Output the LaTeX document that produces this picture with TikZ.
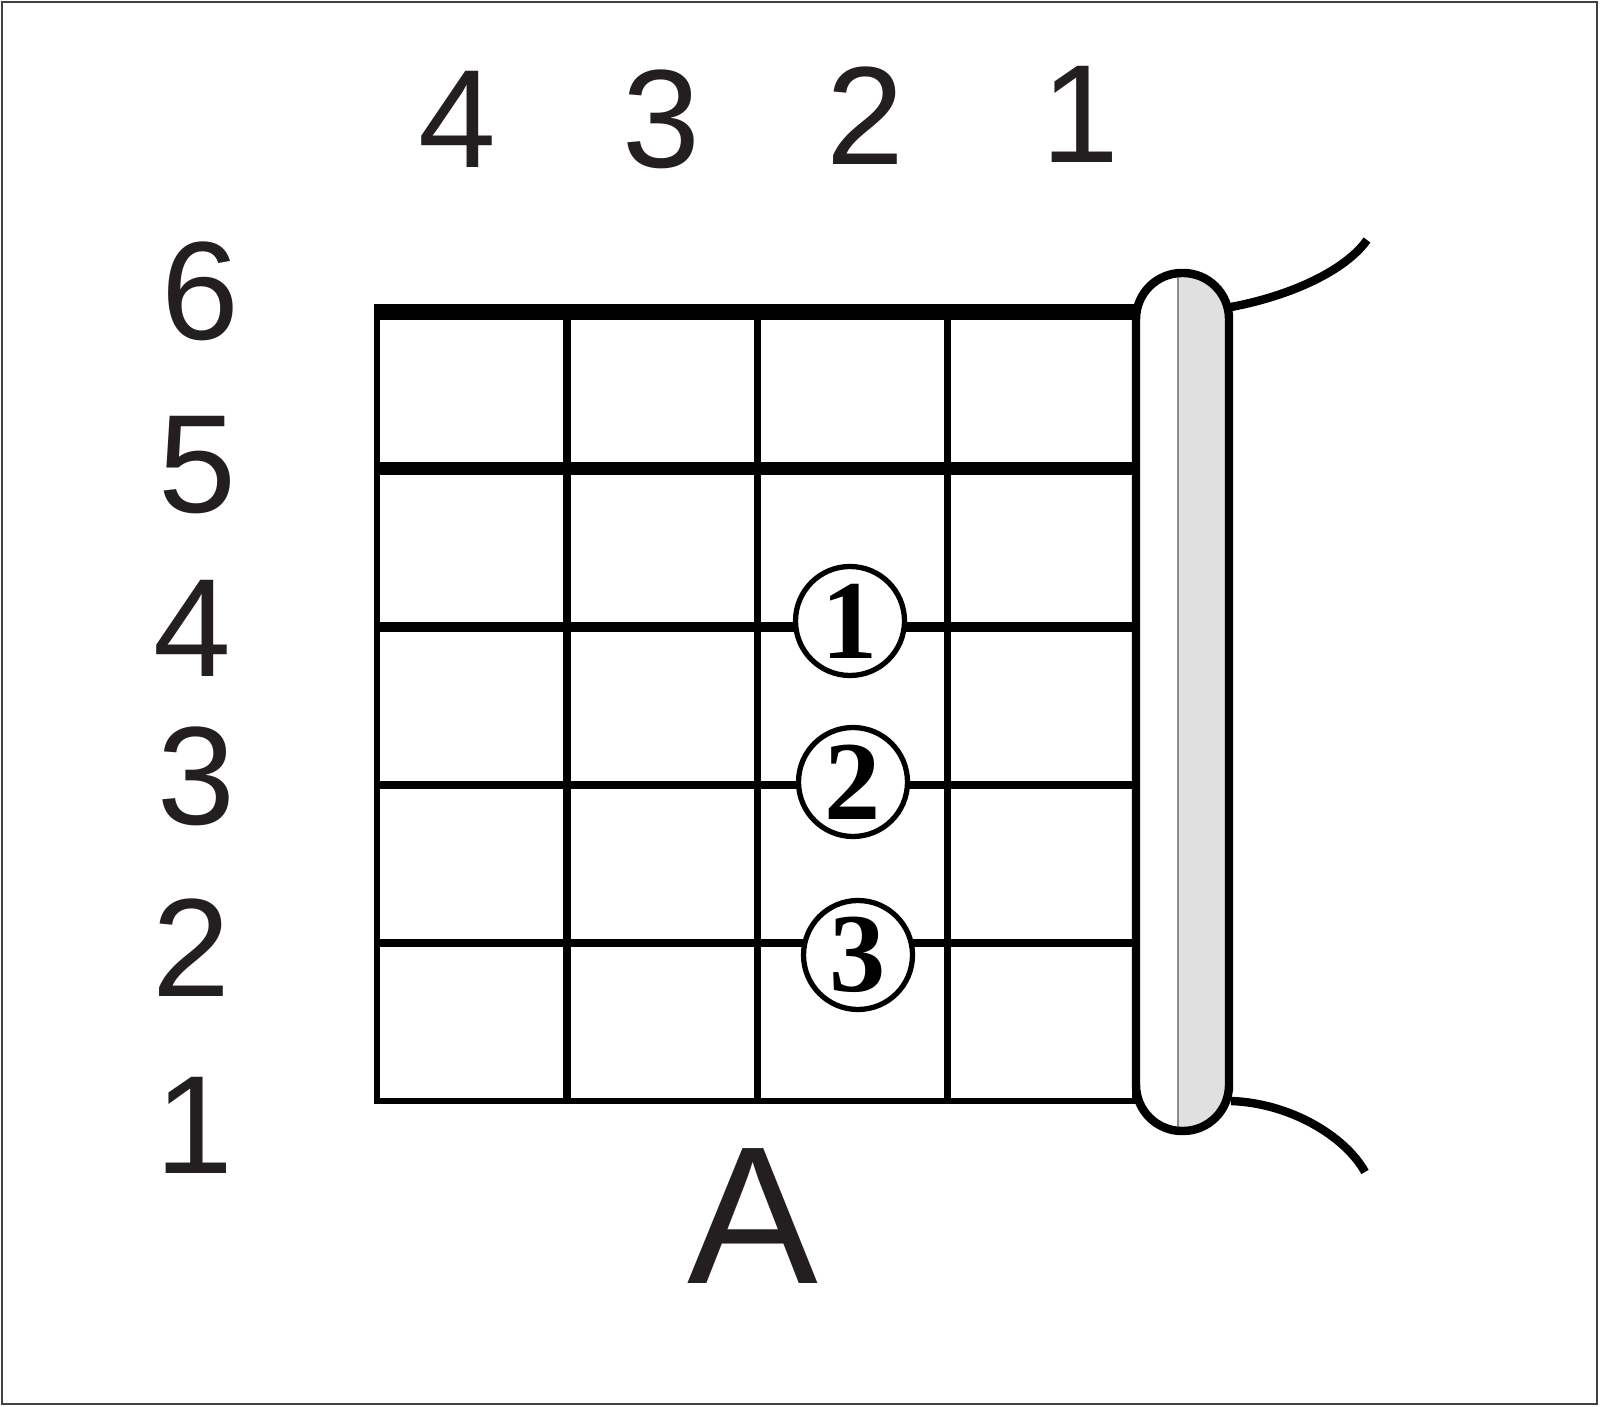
\documentclass[tikz,border=0pt]{standalone}
\usepackage{fontspec}
\newfontfamily\labelfont{Liberation Sans}
\newfontfamily\fingerfont{Liberation Serif}
\definecolor{labelink}{RGB}{35,31,32}
\definecolor{nutgray}{RGB}{224,224,224}
\tikzset{
  numlabel/.style={font=\labelfont\fontsize{39.8}{40}\selectfont, text=labelink, anchor=base, inner sep=0pt},
  finger/.style={circle, draw, line width=1.5pt, fill=white, minimum size=1.09cm, inner sep=0pt, font=\fingerfont\bfseries\fontsize{32}{32}\selectfont},
  fret/.style={line width=2pt},
}
\begin{document}
\begin{tikzpicture}
  \useasboundingbox (0,0) rectangle (16,14.06);
  % Frame
  \draw[black!75, line width=0.7pt] (0.02,0.02) rectangle (15.97,14.04);
  % Frets
  \draw[line width=1.8pt] (3.77,11.02) -- (3.77,3.02);
  \draw[fret] (5.67,11.02) -- (5.67,3.02);
  \draw[fret] (7.57,11.02) -- (7.57,3.02);
  \draw[fret] (9.47,11.02) -- (9.47,3.02);
  \draw[fret] (11.35,11.02) -- (11.35,3.02);
  % Strings
  \draw[line width=4.5pt] (3.74,10.94) -- (11.36,10.94);
  \draw[line width=3.7pt] (3.74,9.37) -- (11.36,9.37);
  \draw[line width=2.9pt] (3.74,7.79) -- (11.36,7.79);
  \draw[line width=2.3pt] (3.74,6.21) -- (11.36,6.21);
  \draw[line width=2pt] (3.74,4.63) -- (11.36,4.63);
  \draw[line width=1.5pt] (3.74,3.05) -- (11.36,3.05);
  % Nut
  \fill[white, rounded corners=0.46cm] (11.36,11.33) rectangle (12.29,2.75);
  \begin{scope}
    \clip[rounded corners=0.46cm] (11.36,11.33) rectangle (12.29,2.75);
    \fill[nutgray] (11.78,11.5) rectangle (12.4,2.6);
    \draw[black!45, line width=0.4pt] (11.78,11.5) -- (11.78,2.6);
  \end{scope}
  \draw[line width=2.4pt, rounded corners=0.46cm] (11.36,11.33) rectangle (12.29,2.75);
  \draw[line width=2.4pt] (12.31,10.99) .. controls (12.9,11.1) and (13.45,11.35) .. (13.67,11.66);
  \draw[line width=2.4pt] (12.31,3.05) .. controls (12.9,3.03) and (13.45,2.7) .. (13.65,2.34);
  % Fingers
  \node (F1) [finger] at (8.50,7.85) {1};
  \node (F2) [finger] at (8.53,6.24) {2};
  \node (F3) [finger] at (8.58,4.51) {3};
  % Fret numbers
  \node (T4) [numlabel] at (4.57,12.38) {4};
  \node (T3) [numlabel] at (6.61,12.38) {3};
  \node (T2) [numlabel] at (8.65,12.41) {2};
  \node (T1) [numlabel] at (10.80,12.43) {1};
  % String numbers
  \node (S6) [numlabel] at (2.00,10.66) {6};
  \node (S5) [numlabel] at (1.97,8.93) {5};
  \node (S4) [numlabel] at (1.92,7.29) {4};
  \node (S3) [numlabel] at (1.96,5.81) {3};
  \node (S2) [numlabel] at (1.91,4.09) {2};
  \node (S1) [numlabel] at (1.94,2.33) {1};
  % Chord name
  \node (chord) [numlabel, font=\labelfont\fontsize{55.8}{56}\selectfont] at (7.53,1.23) {A};
\end{tikzpicture}
\end{document}
